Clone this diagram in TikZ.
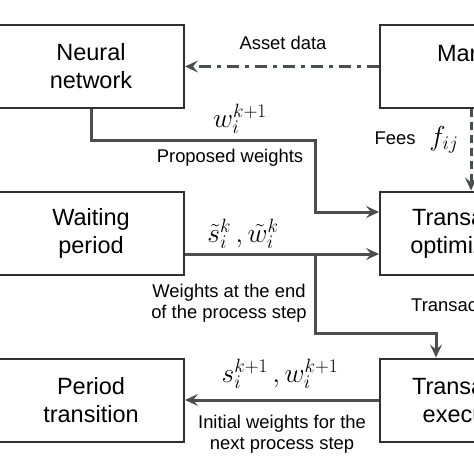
\documentclass[tikz,border=0pt]{standalone}
\usepackage{fix-cm}
\usepackage{fontspec}
\setmainfont{Liberation Sans}
\usetikzlibrary{arrows.meta,calc}
\definecolor{boxc}{HTML}{303030}
\definecolor{linec}{HTML}{4A4E4E}
\tikzset{
  box/.style={draw=boxc, line width=2pt, minimum width=186pt, minimum height=83pt,
    align=center, font=\fontsize{23.5}{28}\selectfont, inner sep=0pt},
  conn/.style={draw=linec, line width=3pt, -{Stealth[length=13pt,width=12pt,inset=5pt]}},
  lbl/.style={font=\fontsize{18.4}{20.5}\selectfont, align=center, inner sep=0pt, text=black},
  mth/.style={font=\fontsize{27.5}{30}\selectfont, inner sep=0pt, anchor=base},
  dashdotline/.style={dash pattern=on 12pt off 6pt on 4pt off 6pt},
  dashline/.style={dash pattern=on 8pt off 5pt}
}
\begin{document}
\begin{tikzpicture}[x=1pt,y=-1pt]
\path[use as bounding box] (0,0) rectangle (474,474);
\clip (0,0) rectangle (474,474);
\node[box] (nn) at (91,66.5) {Neural\\network};
\node[box] (mk) at (473,66.5) {Market\\\phantom{x}};
\node[box] (wp) at (91,233) {Waiting\\period};
\node[box] (to) at (473,233) {Transaction\\optimization};
\node[box] (pt) at (91,400) {Period\\transition};
\node[box] (te) at (473,400) {Transaction\\execution};
\coordinate (c1) at (315,140);
\coordinate (b) at (315,254);
\coordinate (b1) at (315,333);
% connectors
\draw[conn, dashdotline] (mk.west) -- (nn.east);
\draw[conn] (nn.south) |- (c1) |- ([yshift=21pt]to.west);
\draw[conn] ([yshift=-21pt]wp.east) -- ([yshift=-21pt]to.west);
\draw[conn] (b) -- (b1) -| ([xshift=-37pt]te.north);
\draw[conn, dashline] ([xshift=-2pt]mk.south) -- ([xshift=-2pt]to.north);
\draw[conn] (te.west) -- (pt.east);
% labels
\node[lbl] (l1) at (283,43) {Asset data};
\node[mth] (l2) at (240,127) {$w_i^{k+1}$};
\node[lbl] (l3) at (230,158) {Proposed weights};
\node[lbl] (l4) at (395,138) {Fees};
\node[mth] (l5) at (444,145) {$f_{ij}$};
\node[mth] (l6) at (243,242) {$\tilde{s}_i^k\,,\tilde{w}_i^k$};
\node[lbl] (l7) at (229,303) {Weights at the end\\of the process step};
\node[lbl, anchor=west] (l8) at (411,305) {Transactions};
\node[mth] (l9) at (280,382) {$s_i^{k+1}\,,w_i^{k+1}$};
\node[lbl] (l10) at (282,434) {Initial weights for the\\next process step};
\end{tikzpicture}
\end{document}
